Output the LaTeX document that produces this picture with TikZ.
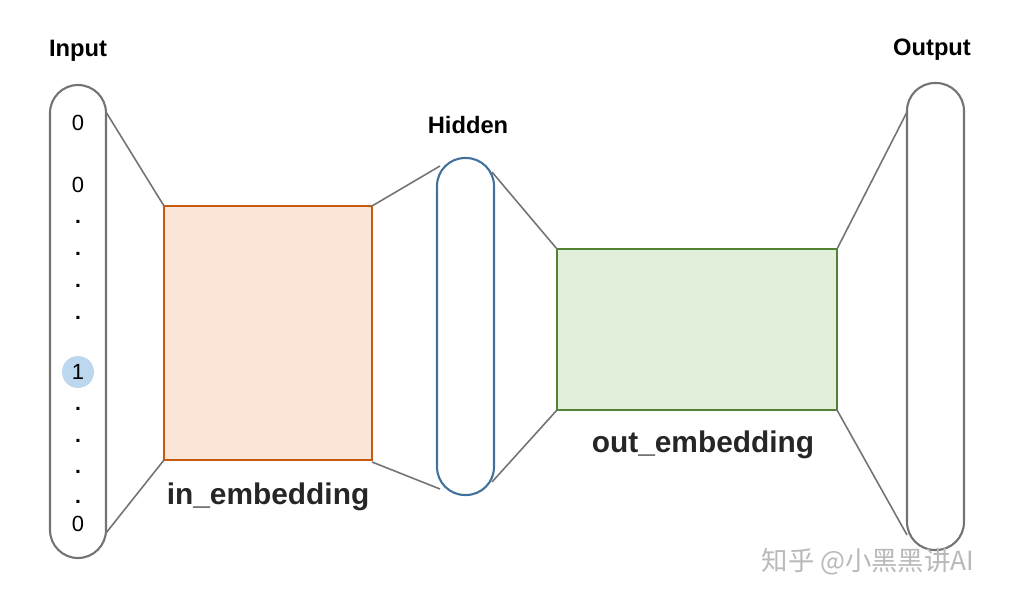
\documentclass[tikz,border=0pt]{standalone}
\usepackage{fontspec}
\setmainfont{Liberation Sans}
\newfontfamily\cjk{Noto Sans CJK SC}
\definecolor{og}{HTML}{C55A11}
\definecolor{ofill}{HTML}{FBE5D6}
\definecolor{gg}{HTML}{538135}
\definecolor{gfill}{HTML}{E2EFDA}
\definecolor{bl}{HTML}{41719C}
\definecolor{lb}{HTML}{BDD7EE}
\begin{document}
\begin{tikzpicture}[x=0.02cm,y=-0.02cm,
  cap/.style={draw=#1,line width=1.2pt,rounded corners=28*0.02cm},
  lnk/.style={draw=gray!90!black,line width=0.9pt},
  ttl/.style={font=\bfseries\fontsize{13.5}{15}\selectfont},
  lab/.style={font=\bfseries\fontsize{17}{19}\selectfont,text=black!85},
  dig/.style={font=\fontsize{12.5}{14}\selectfont},
  dt/.style={font=\bfseries\fontsize{12}{14}\selectfont}]
\useasboundingbox (0,0) rectangle (1017,602);
% input
\draw[cap=gray!90!black] (50,85) rectangle (106,558);
\coordinate (i1) at (106,112); \coordinate (i2) at (106,533);
\node[ttl] (tin) at (78,51) {Input};
\node[dig] (d0) at (78,123) {0};
\node[dig] (d1) at (78,185) {0};
\foreach \y [count=\k] in {216,248,280,312,403,435,466,496}
  \node[dt] (dot\k) at (78,\y+6) {.};
\fill[lb] (78,372) circle (16);
\node[dig] (d2) at (78,372) {1};
\node[dig] (d3) at (78,524) {0};
% orange
\draw[draw=og,fill=ofill,line width=1pt] (164,206) rectangle (372,460);
\coordinate (o1) at (164,206); \coordinate (o2) at (164,460);
\coordinate (o3) at (372,206); \coordinate (o4) at (372,462);
\node[lab] (lin) at (268,497) {in\_embedding};
% hidden
\draw[cap=bl] (437,158) rectangle (494,495);
\coordinate (h1) at (440,166); \coordinate (h2) at (440,489);
\coordinate (h3) at (492,172); \coordinate (h4) at (492,482);
\node[ttl] (thid) at (468,125) {Hidden};
% green
\draw[draw=gg,fill=gfill,line width=1pt] (557,249) rectangle (837,410);
\coordinate (g1) at (557,249); \coordinate (g2) at (557,410);
\coordinate (g3) at (837,249); \coordinate (g4) at (837,410);
\node[lab] (lout) at (703,445) {out\_embedding};
% output
\draw[cap=gray!90!black] (907,83) rectangle (964,550);
\coordinate (p1) at (907,112); \coordinate (p2) at (907,535);
\node[ttl] (tout) at (932,50) {Output};
% links
\draw[lnk] (i1)--(o1); \draw[lnk] (i2)--(o2);
\draw[lnk] (o3)--(h1); \draw[lnk] (o4)--(h2);
\draw[lnk] (h3)--(g1); \draw[lnk] (h4)--(g2);
\draw[lnk] (g3)--(p1); \draw[lnk] (g4)--(p2);
\node[font=\cjk\fontsize{15}{17}\selectfont,text=gray!55] (wm) at (868,562) {知乎 @小黑黑讲AI};
\end{tikzpicture}
\end{document}
